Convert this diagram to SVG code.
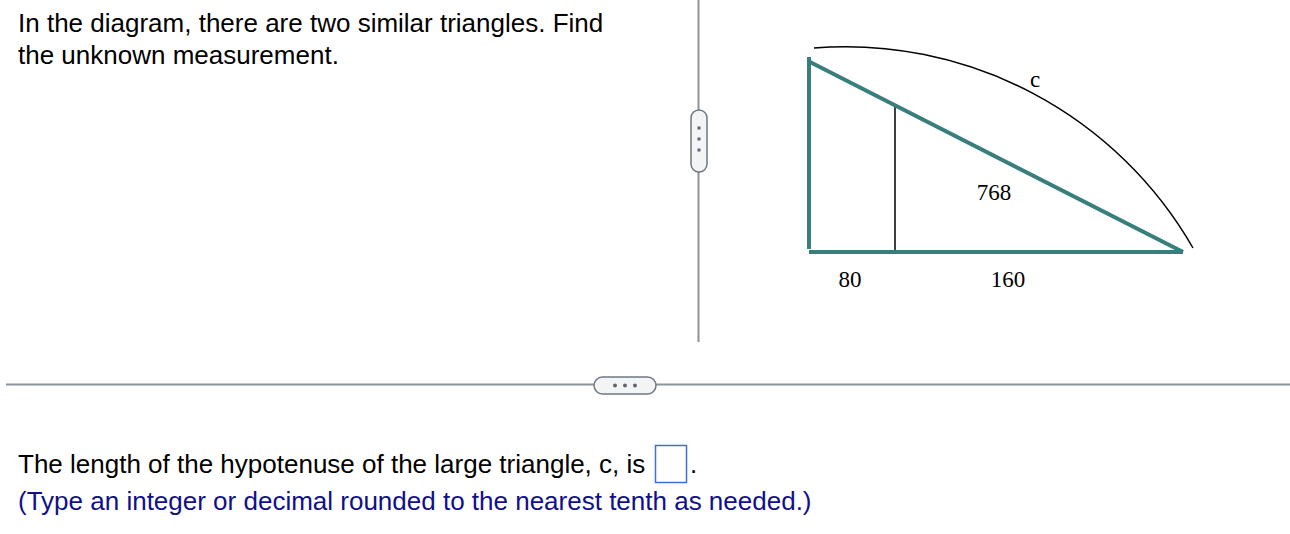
<svg xmlns="http://www.w3.org/2000/svg" width="1290" height="534" viewBox="0 0 1290 534">
<style>
.sans{font-family:"Liberation Sans",Arial,sans-serif;font-size:26px;fill:#000}
.note{fill:#10108a}
.serif{font-family:"Liberation Serif","Times New Roman",serif;font-size:23px;fill:#000}
.teal{stroke:#377e7d;stroke-width:4;fill:none}
.divider{stroke:#8b939e;stroke-width:2;fill:none}
.pill{fill:#f3f4f6;stroke:#6f7782;stroke-width:1.5}
.dot{fill:#5f6670}
</style>
<rect width="1290" height="534" fill="#fff"/>
<g id="prompt">
<text class="sans" x="18" y="32">In the diagram, there are two similar triangles. Find</text>
<text class="sans" x="18" y="64">the unknown measurement.</text>
</g>
<g id="vertical-divider">
<line class="divider" x1="698.5" y1="0" x2="698.5" y2="342"/>
<rect class="pill" x="691" y="110" width="16" height="62" rx="8"/>
<rect class="dot" x="697.5" y="126.5" width="3" height="3"/>
<rect class="dot" x="697.5" y="137.5" width="3" height="3"/>
<rect class="dot" x="697.5" y="148.5" width="3" height="3"/>
</g>
<g id="horizontal-divider">
<line class="divider" x1="6" y1="384.5" x2="1290" y2="384.5"/>
<rect class="pill" x="594" y="377" width="62" height="17" rx="8.5"/>
<circle class="dot" cx="615" cy="385.5" r="2"/>
<circle class="dot" cx="625" cy="385.5" r="2"/>
<circle class="dot" cx="635" cy="385.5" r="2"/>
</g>
<g id="diagram">
<path d="M814,48 A400.8,400.8 0 0 1 1193,248" fill="none" stroke="#000" stroke-width="1.5"/>
<line x1="895" y1="106" x2="895" y2="252" stroke="#000" stroke-width="1.5"/>
<line class="teal" x1="809" y1="57" x2="809" y2="249"/>
<line class="teal" x1="809" y1="252" x2="1183" y2="252"/>
<line class="teal" x1="810" y1="62" x2="1183" y2="252"/>
<text class="serif" x="1035" y="87" text-anchor="middle">c</text>
<text class="serif" x="994" y="200" text-anchor="middle">768</text>
<text class="serif" x="850" y="287" text-anchor="middle">80</text>
<text class="serif" x="1008" y="287" text-anchor="middle">160</text>
</g>
<g id="question">
<text class="sans" x="18" y="473">The length of the hypotenuse of the large triangle, c, is</text>
<rect x="655.5" y="445.5" width="31" height="37" fill="#fff" stroke="#3d6fcf" stroke-width="1.5"/>
<text class="sans" x="690" y="473">.</text>
<text class="sans note" x="18" y="510">(Type an integer or decimal rounded to the nearest tenth as needed.)</text>
</g>
</svg>
